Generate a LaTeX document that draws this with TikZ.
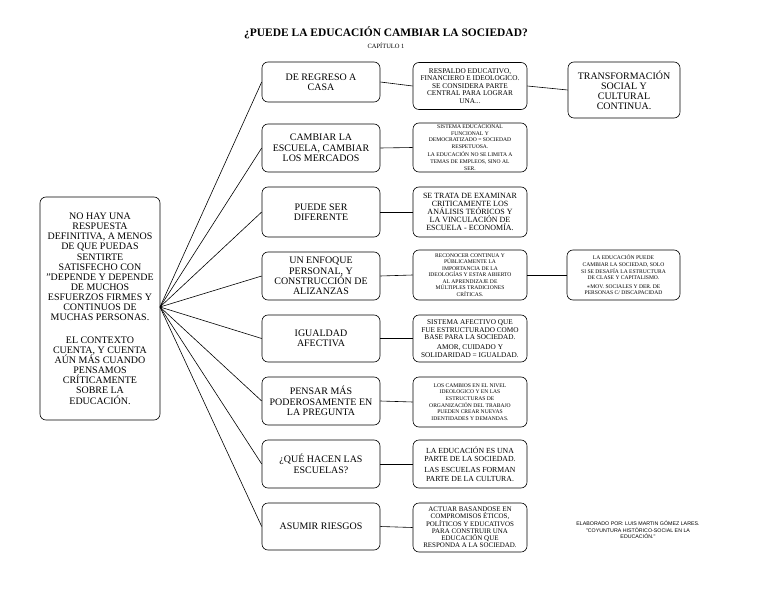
\documentclass[tikz,border=0pt]{standalone}
\usepackage{fontspec}
\setmainfont{Liberation Serif}
\newfontfamily\sansf{Liberation Sans}
\begin{document}
\begin{tikzpicture}[x=1bp,y=-1bp,
  box/.style={draw,rounded corners=6bp,line width=0.6pt,align=center,inner sep=1.5bp},
  mid/.style={box,minimum width=118bp,minimum height=46bp,font=\fontsize{10}{10.5}\selectfont},
  rt/.style={box,minimum width=114bp,minimum height=48bp,font=\fontsize{7}{7.3}\selectfont},
  rs/.style={box,minimum width=114bp,minimum height=48bp,font=\fontsize{5.6}{6.6}\selectfont},
  ln/.style={line width=0.6pt}]
\useasboundingbox (0,0) rectangle (768,594);
\node[font=\bfseries\fontsize{11.5}{12}\selectfont] (title) at (386,33) {¿PUEDE LA EDUCACIÓN CAMBIAR LA SOCIEDAD?};
\node[font=\fontsize{6.5}{7}\selectfont] (cap) at (386,46) {CAPÍTULO 1};
\node[box,minimum width=120bp,minimum height=223bp,font=\fontsize{10}{10.2}\selectfont] (L) at (100,308.5)
 {NO HAY UNA\\ RESPUESTA\\ DEFINITIVA, A MENOS\\ DE QUE PUEDAS\\ SENTIRTE\\ SATISFECHO CON\\ "DEPENDE Y DEPENDE\\ DE MUCHOS\\ ESFUERZOS FIRMES Y\\ CONTINUOS DE\\ MUCHAS PERSONAS.\\[12bp]
 EL CONTEXTO\\ CUENTA, Y CUENTA\\ AÚN MÁS CUANDO\\ PENSAMOS\\ CRÍTICAMENTE\\ SOBRE LA\\ EDUCACIÓN.};
\coordinate (hub) at (160,307);
\node[mid,minimum height=40bp] (m1) at (321,82) {DE REGRESO A\\ CASA};
\node[mid,minimum height=48bp] (m2) at (321,148) {CAMBIAR LA\\ ESCUELA, CAMBIAR\\ LOS MERCADOS};
\node[mid,minimum height=50bp] (m3) at (321,212) {PUEDE SER\\ DIFERENTE};
\node[mid,minimum height=48bp] (m4) at (321,276) {UN ENFOQUE\\ PERSONAL, Y\\ CONSTRUCCIÓN DE\\ ALIZANZAS};
\node[mid,minimum height=47bp] (m5) at (321,338.5) {IGUALDAD\\ AFECTIVA};
\node[mid,minimum height=48bp] (m6) at (321,401) {PENSAR MÁS\\ PODEROSAMENTE EN\\ LA PREGUNTA};
\node[mid,minimum height=48bp] (m7) at (321,464) {¿QUÉ HACEN LAS\\ ESCUELAS?};
\node[mid,minimum height=47bp] (m8) at (321,526.5) {ASUMIR RIESGOS};
\node[rt,minimum height=47bp,font=\fontsize{7.3}{7.4}\selectfont] (r1) at (470,86) {RESPALDO EDUCATIVO,\\ FINANCIERO E IDEOLOGICO.\\ SE CONSIDERA PARTE\\ CENTRAL PARA LOGRAR\\ UNA...};
\node[rs,minimum height=49bp] (r2) at (470,147.5) {SISTEMA EDUCACIONAL\\ FUNCIONAL Y\\ DEMOCRATIZADO = SOCIEDAD\\ RESPETUOSA.\\[2bp] LA EDUCACIÓN NO SE LIMITA A\\ TEMAS DE EMPLEOS, SINO AL\\ SER.};
\node[rt,minimum height=50bp,font=\fontsize{8}{8.2}\selectfont] (r3) at (470,212) {SE TRATA DE EXAMINAR\\ CRITICAMENTE LOS\\ ANÁLISIS TEÓRICOS Y\\ LA VINCULACIÓN DE\\ ESCUELA - ECONOMÍA.};
\node[rs,minimum height=50bp] (r4) at (470,275) {RECONOCER CONTINUA Y\\ PÚBLICAMENTE LA\\ IMPORTANCIA DE LA\\ IDEOLOGÍAS Y ESTAR ABIERTO\\ AL APRENDIZAJE DE\\ MÚLTIPLES TRADICIONES\\ CRÍTICAS.};
\node[rt,minimum height=47bp,font=\fontsize{7.3}{7.6}\selectfont] (r5) at (470,338.5) {SISTEMA AFECTIVO QUE\\ FUE ESTRUCTURADO COMO\\ BASE PARA LA SOCIEDAD.\\[2bp] AMOR, CUIDADO Y\\ SOLIDARIDAD = IGUALDAD.};
\node[rs,minimum height=50bp] (r6) at (470,402) {LOS CAMBIOS EN EL NIVEL\\ IDEOLOGICO Y EN LAS\\ ESTRUCTURAS DE\\ ORGANIZACIÓN DEL TRABAJO\\ PUEDEN CREAR NUEVAS\\ IDENTIDADES Y DEMANDAS.};
\node[rt,minimum height=48bp,font=\fontsize{7.8}{8.2}\selectfont] (r7) at (470,464) {LA EDUCACIÓN ES UNA\\ PARTE DE LA SOCIEDAD.\\[3bp] LAS ESCUELAS FORMAN\\ PARTE DE LA CULTURA.};
\node[rt,minimum height=49bp] (r8) at (470,527.5) {ACTUAR BASANDOSE EN\\ COMPROMISOS ÉTICOS,\\ POLÍTICOS Y EDUCATIVOS\\ PARA CONSTRUIR UNA\\ EDUCACIÓN QUE\\ RESPONDA A LA SOCIEDAD.};
\node[box,minimum width=112bp,minimum height=56bp,font=\fontsize{10}{10}\selectfont] (T) at (624,90) {TRANSFORMACIÓN\\ SOCIAL Y\\ CULTURAL\\ CONTINUA.};
\node[rs,minimum width=113bp,minimum height=50bp] (E) at (623.5,275) {LA EDUCACIÓN PUEDE\\ CAMBIAR LA SOCIEDAD, SOLO\\ SI SE DESAFÍA LA ESTRUCTURA\\ DE CLASE Y CAPITALISMO.\\[2bp] $\ast$MOV. SOCIALES Y DER. DE\\ PERSONAS C/ DISCAPACIDAD};
\node[font=\sansf\fontsize{5.3}{6.5}\selectfont,align=center] (cred) at (638,530) {ELABORADO POR: LUIS MARTIN GÓMEZ LARES.\\ "COYUNTURA HISTÓRICO-SOCIAL EN LA\\ EDUCACIÓN."};
\foreach \i in {1,...,8}{
  \draw[ln] (hub) -- (m\i.west);
  \draw[ln] (m\i.east) -- (r\i.west);
}
\draw[ln] (r1.east) -- (T.west);
\draw[ln] (r4.east) -- (E.west);
\end{tikzpicture}
\end{document}
